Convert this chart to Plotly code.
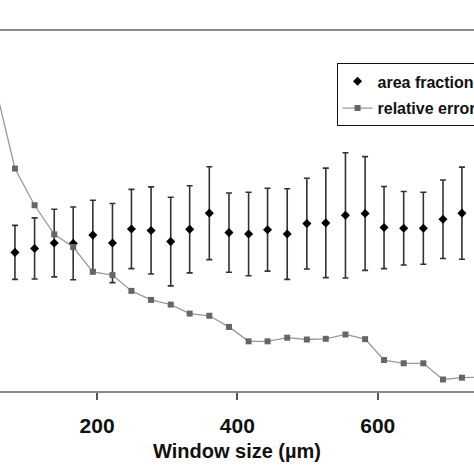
import plotly.graph_objects as go

# Window sizes (um) - steps of ~27.7 um
window_size = [83, 111, 139, 166, 194, 222, 249, 277, 305, 332, 360, 388,
               416, 443, 471, 499, 526, 554, 582, 609, 637, 665, 693, 720]

# Area fraction (relative units, y axis not visible in the crop)
area_fraction = [38.5, 39.6, 41.1, 41.0, 43.3, 41.1, 45.0, 44.6, 41.5, 44.9, 49.4, 44.0,
                 43.6, 44.8, 43.6, 46.5, 46.7, 48.8, 49.3, 45.4, 45.2, 45.2, 47.7, 49.4]
area_fraction_err = [7.5, 8.5, 9.4, 10.1, 9.7, 11.0, 11.0, 12.1, 12.3, 12.1, 12.9, 11.0,
                     11.6, 11.5, 12.6, 12.6, 15.2, 17.4, 15.8, 11.4, 10.2, 10.0, 10.9, 12.8]

# Relative error - one extra point on each side, partly cut off by the crop
error_size = [55, 83, 111, 139, 166, 194, 222, 249, 277, 305, 332, 360, 388,
              416, 443, 471, 499, 526, 554, 582, 609, 637, 665, 693, 720, 748]
relative_error = [84.7, 61.8, 51.6, 43.5, 40.0, 33.1, 32.2, 27.8, 25.3, 24.0, 21.5, 20.9, 17.8,
                  13.8, 13.8, 14.8, 14.3, 14.5, 15.7, 14.4, 8.6, 7.7, 7.7, 3.2, 3.7, 3.8]

x_ticks = [200, 400, 600]

fig = go.Figure()

# Area fraction with error bars #
fig.add_trace(go.Scatter(
    x=window_size,
    y=area_fraction,
    mode="markers",
    name="area fraction",
    legendgroup="a",
    marker=dict(symbol="diamond", size=7, color="black"),
    error_y=dict(
        type="data",
        array=area_fraction_err,
        color="#333333",
        thickness=1.6,
        width=3,
    ),
))

# Relative error line #
fig.add_trace(go.Scatter(
    x=error_size,
    y=relative_error,
    mode="lines+markers",
    name="relative error",
    legendgroup="b",
    line=dict(color="#9a9a9a", width=1.3),
    marker=dict(symbol="square", size=6, color="#666666"),
))

fig.update_layout(
    width=474,
    height=474,
    margin=dict(l=0, r=0, t=31, b=83, autoexpand=False),
    plot_bgcolor="white",
    paper_bgcolor="white",
    font=dict(family="Liberation Sans, Arial, sans-serif", color="#111111"),
    showlegend=True,
    legend=dict(
        x=0.71, y=0.91,
        xanchor="left", yanchor="top",
        bordercolor="#111111", borderwidth=1,
        bgcolor="white",
        font=dict(size=16, family="Liberation Sans, Arial, sans-serif", weight="bold"),
        traceorder="grouped",
        tracegroupgap=3,
    ),
)

# X-Axis Styles #
fig.update_xaxes(
    range=[61.7, 737.2],
    tickvals=x_ticks,
    ticks="outside",
    ticklen=7,
    tickwidth=1.5,
    tickcolor="#555555",
    ticklabelstandoff=8,
    showline=True,
    mirror=True,
    linecolor="#8a8a8a",
    linewidth=2,
    showgrid=False,
    zeroline=False,
    tickfont=dict(size=21, weight="bold"),
    title=dict(text="Window size (µm)", font=dict(size=20, weight="bold"), standoff=8),
)

# Y Axis Styles #
fig.update_yaxes(range=[0, 100], visible=False)

# Drop the default page margin so the figure sits at the window corner
fig.write_html(
    "out.html",
    config={"displayModeBar": False},
    post_script="document.body.style.margin='0';",
)
